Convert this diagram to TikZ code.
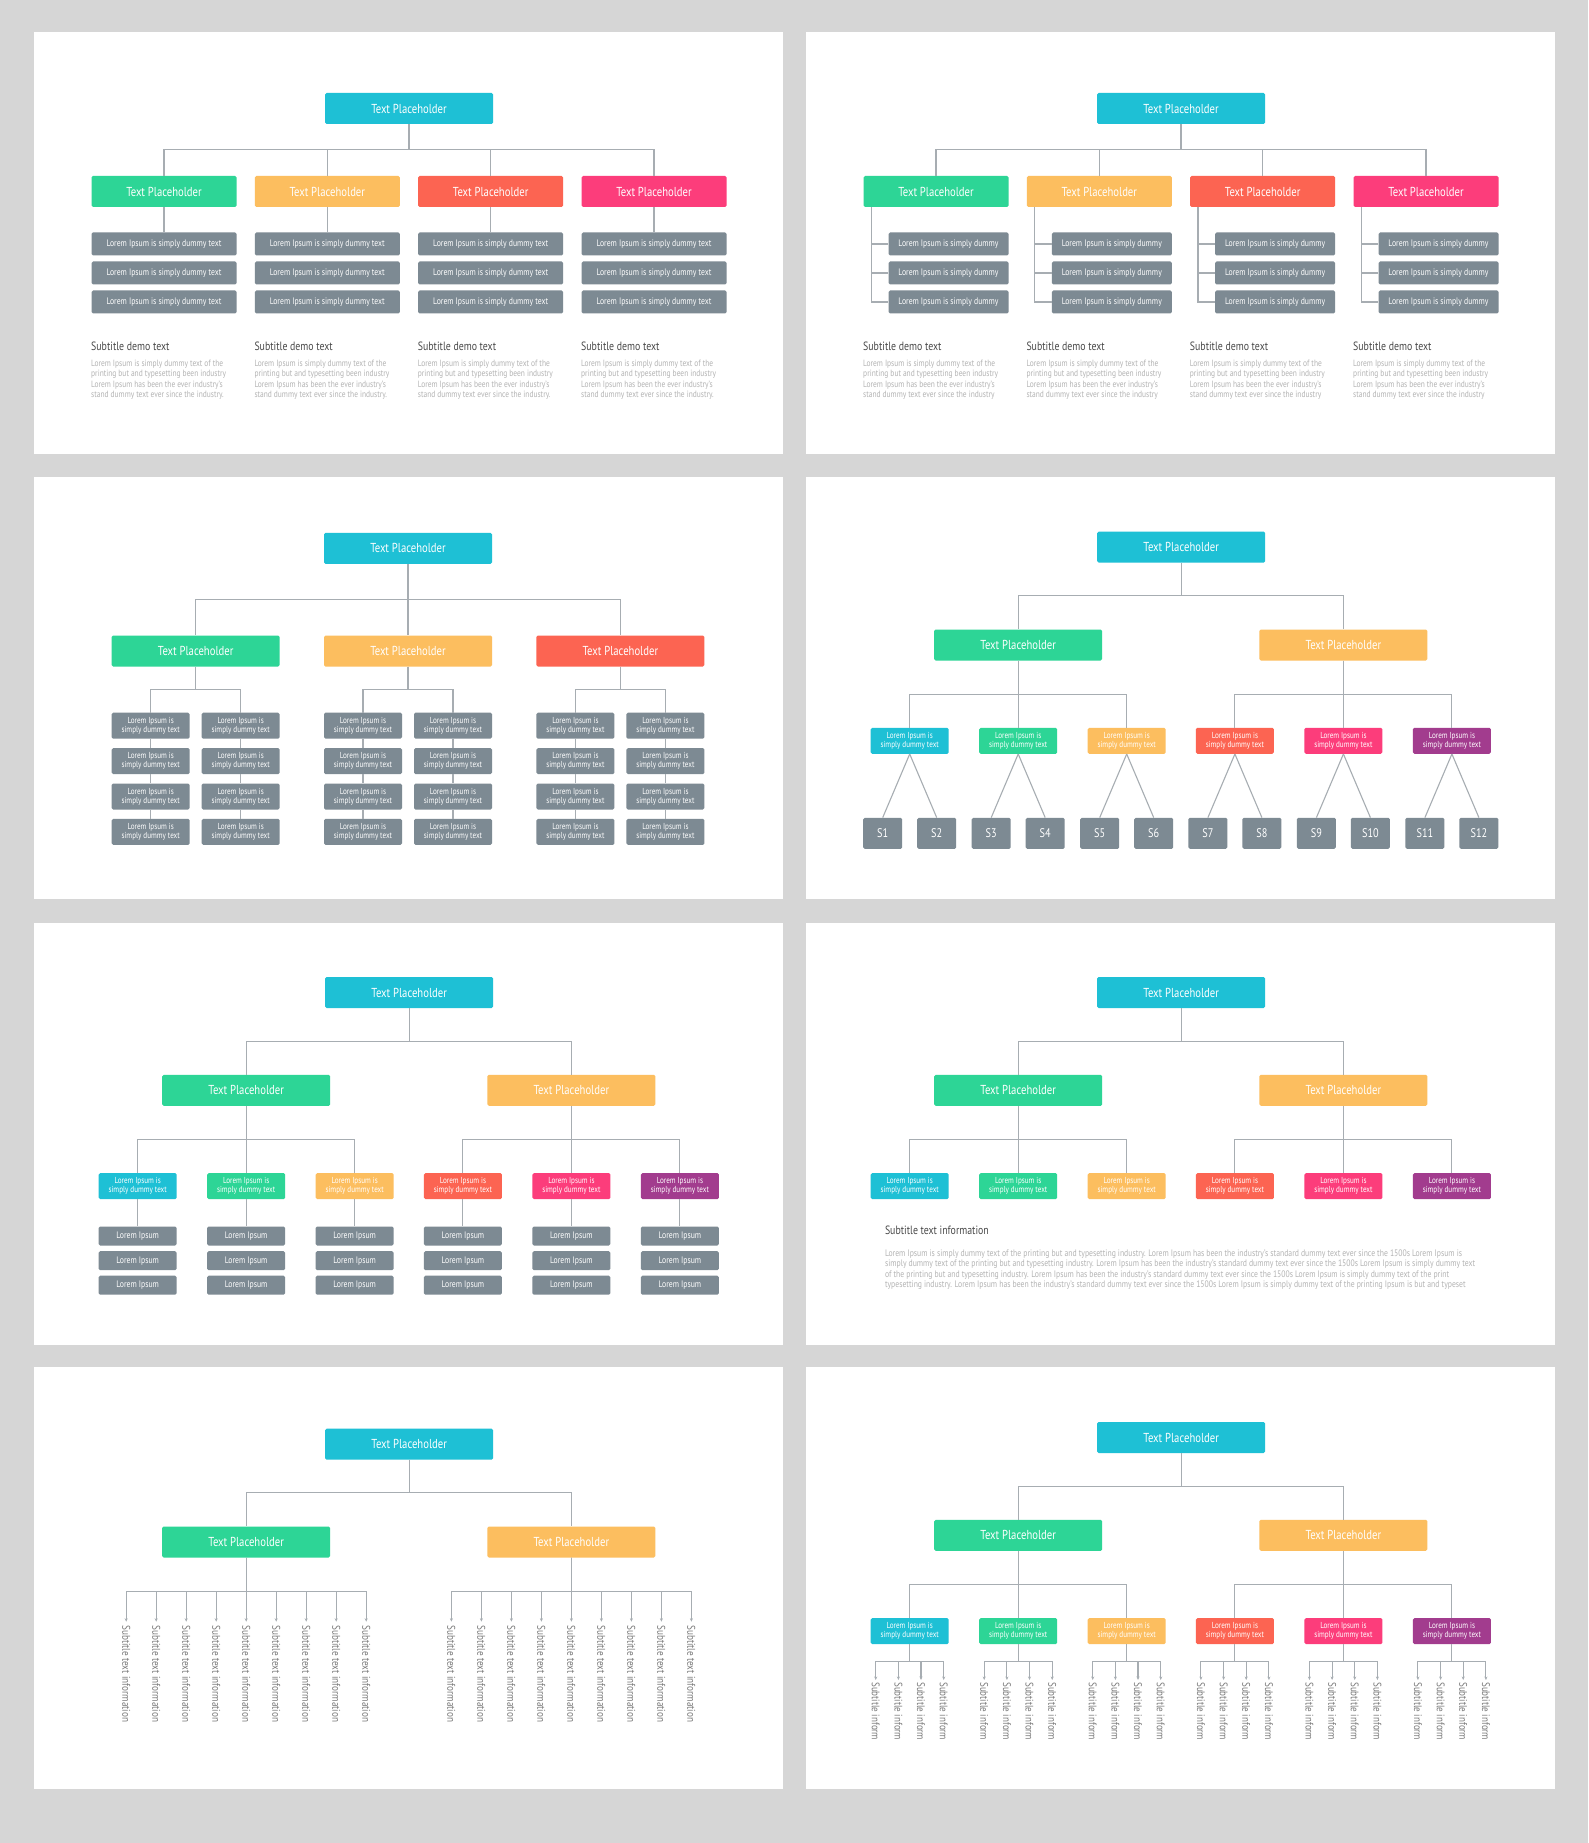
\documentclass[tikz,border=0pt]{standalone}
\usepackage{fontspec}
\setmainfont{PT Sans}[FakeStretch=0.82]
\usetikzlibrary{calc,arrows.meta}
\definecolor{cCyan}{HTML}{1EC0D5}
\definecolor{cGreen}{HTML}{2DD596}
\definecolor{cOrange}{HTML}{FCBE5F}
\definecolor{cRed}{HTML}{FC6452}
\definecolor{cPink}{HTML}{FC3D7B}
\definecolor{cPurple}{HTML}{A23C8E}
\definecolor{cGray}{HTML}{7D8A93}
\definecolor{cLine}{HTML}{A7ADB2}
\definecolor{cBg}{HTML}{D6D6D6}
\definecolor{cSub}{HTML}{4A4A4A}
\definecolor{cPara}{HTML}{B3B3B3}
\definecolor{cVl}{HTML}{7A7A7A}

\newcommand{\TopTwo}[1]{%
  \node[big, fill=cCyan] (#1top) at (1181.2,547.2) {Text Placeholder};
  \node[big, fill=cGreen] (#1b1) at (1018.2,645) {Text Placeholder};
  \node[big, fill=cOrange] (#1b2) at (1343.4,645) {Text Placeholder};
  \draw[conn] (#1top.south) -- ++(0,33) -| (#1b1.north);
  \draw[conn] (#1top.south) -- ++(0,33) -| (#1b2.north);
}
\newcommand{\LevelThree}[1]{%
  \foreach \k/\x/\c/\p in {1/909.7/cCyan/1,2/1018.2/cGreen/1,3/1126.7/cOrange/1,4/1234.9/cRed/2,5/1343.4/cPink/2,6/1451.9/cPurple/2}{
    \node[small, fill=\c] (#1c\k) at (\x,740.8) {Lorem Ipsum is\\simply dummy text};
    \draw[conn] (#1b\p.south) -- ++(0,33.8) -| (#1c\k.north);
  }
}

\begin{document}
\begin{tikzpicture}[x=1pt,y=-1pt,
  conn/.style={draw=cLine, line width=1.1pt},
  tip/.style={conn, -{Stealth[length=3.5pt,width=3pt]}},
  box/.style={rectangle, rounded corners=1.5pt, inner sep=0pt, text=white, align=center},
  big/.style={box, minimum width=168pt, minimum height=31pt, font=\fontsize{13}{15}\selectfont},
  mid/.style={box, minimum width=145pt, minimum height=31pt, font=\fontsize{13}{15}\selectfont},
  small/.style={box, minimum width=78pt, minimum height=26pt, font=\fontsize{8.7}{9.3}\selectfont},
  gbox/.style={box, fill=cGray, font=\fontsize{9.4}{10}\selectfont},
  sbox/.style={box, fill=cGray, minimum width=39pt, minimum height=31pt, font=\fontsize{12.5}{14}\selectfont},
  subt/.style={inner sep=0pt, text=cSub, font=\fontsize{12}{14}\selectfont},
  para/.style={inner sep=0pt, text=cPara, align=left, font=\fontsize{9.1}{10.2}\selectfont},
  vlab/.style={inner sep=0pt, text=cVl, rotate=-90, anchor=west, font=\fontsize{11.2}{12}\selectfont}
]
\fill[cBg] (0,0) rectangle (1588,1843);
\foreach \px/\py in {34/32,806/32,34/477,806/477,34/923,806/923,34/1367,806/1367}
  \fill[white] (\px,\py) rectangle ++(749,422);

% ---------- Panel 1
\node[big, fill=cCyan] (p1top) at (409,108.5) {Text Placeholder};
\foreach \i/\x/\c in {1/164/cGreen,2/327.3/cOrange,3/490.7/cRed,4/654/cPink}{
  \node[mid, fill=\c] (p1b\i) at (\x,191.5) {Text Placeholder};
  \draw[conn] (p1top.south) -- ++(0,25.7) -| (p1b\i.north);
  \foreach \j/\y in {1/244,2/273,3/302}
    \node[gbox, minimum width=145pt, minimum height=23pt] (p1g\i\j) at (\x,\y) {Lorem Ipsum is simply dummy text};
  \draw[conn] (p1b\i.south) -- (p1g\i1.north);
  \node[subt, anchor=west] (p1s\i) at (\x-73,346) {Subtitle demo text};
  \node[para, anchor=north west] (p1p\i) at (\x-73,360) {Lorem Ipsum is simply dummy text of the\\printing but and typesetting been industry\\Lorem Ipsum has been the ever industry's\\stand dummy text ever since the industry.};
}

% ---------- Panel 2
\node[big, fill=cCyan] (p2top) at (1181,108.5) {Text Placeholder};
\foreach \i/\x/\c in {1/936/cGreen,2/1099.3/cOrange,3/1262.7/cRed,4/1426/cPink}{
  \node[mid, fill=\c] (p2b\i) at (\x,191.5) {Text Placeholder};
  \draw[conn] (p2top.south) -- ++(0,25.7) -| (p2b\i.north);
  \foreach \j/\y in {1/244,2/273,3/302}{
    \node[gbox, minimum width=120pt, minimum height=23pt] (p2g\i\j) at (\x+12.5,\y) {Lorem Ipsum is simply dummy};
    \draw[conn] ($(p2b\i.south west)+(8,0)$) |- (p2g\i\j.west);
  }
  \node[subt, anchor=west] (p2s\i) at (\x-73,346) {Subtitle demo text};
  \node[para, anchor=north west] (p2p\i) at (\x-73,360) {Lorem Ipsum is simply dummy text of the\\printing but and typesetting been industry\\Lorem Ipsum has been the ever industry's\\stand dummy text ever since the industry};
}

% ---------- Panel 3
\node[big, fill=cCyan] (p3top) at (408,548.3) {Text Placeholder};
\foreach \i/\x/\c in {1/195.7/cGreen,2/408/cOrange,3/620.4/cRed}{
  \node[big, fill=\c] (p3b\i) at (\x,651) {Text Placeholder};
  \draw[conn] (p3top.south) -- ++(0,35.7) -| (p3b\i.north);
  \foreach \k/\dx in {1/-45,2/45}{
    \foreach \j/\y in {1/725.7,2/761.1,3/796.5,4/831.9}
      \node[gbox, minimum width=78pt, minimum height=26pt, font=\fontsize{8.7}{9.3}\selectfont] (p3g\i\k\j) at (\x+\dx,\y) {Lorem Ipsum is\\simply dummy text};
    \draw[conn] (p3b\i.south) -- ++(0,23.2) -| (p3g\i\k1.north);
    \draw[conn] (p3g\i\k1.south) -- (p3g\i\k2.north);
    \draw[conn] (p3g\i\k2.south) -- (p3g\i\k3.north);
    \draw[conn] (p3g\i\k3.south) -- (p3g\i\k4.north);
  }
}

% ---------- Panel 4
\TopTwo{p4}
\LevelThree{p4}
\foreach \k/\x in {1/909.7,2/1018.2,3/1126.7,4/1234.9,5/1343.4,6/1451.9}{
  \pgfmathtruncatemacro\sa{2*\k-1}
  \pgfmathtruncatemacro\sb{2*\k}
  \node[sbox] (p4s\sa) at (\x-27,833.3) {S\sa};
  \node[sbox] (p4s\sb) at (\x+27,833.3) {S\sb};
  \draw[conn] (p4c\k.south) -- (p4s\sa.north);
  \draw[conn] (p4c\k.south) -- (p4s\sb.north);
}

% ---------- Panel 5
\begin{scope}[shift={(-772,445.3)}]
\TopTwo{p5}
\LevelThree{p5}
\foreach \k/\x in {1/909.7,2/1018.2,3/1126.7,4/1234.9,5/1343.4,6/1451.9}{
  \foreach \j/\y in {1/790.7,2/815.4,3/839.9}
    \node[gbox, minimum width=78pt, minimum height=19pt] (p5g\k\j) at (\x,\y) {Lorem Ipsum};
  \draw[conn] (p5c\k.south) -- (p5g\k1.north);
}
\end{scope}

% ---------- Panel 6
\begin{scope}[shift={(0,445.3)}]
\TopTwo{p6}
\LevelThree{p6}
\end{scope}
\node[subt, anchor=west] (p6s) at (884.8,1230) {Subtitle text information};
\node[para, anchor=north west, font=\fontsize{9.4}{10.3}\selectfont] (p6p) at (884.8,1249.5) {Lorem Ipsum is simply dummy text of the printing but and typesetting industry. Lorem Ipsum has been the industry's standard dummy text ever since the 1500s Lorem Ipsum is\\simply dummy text of the printing but and typesetting industry. Lorem Ipsum has been the industry's standard dummy text ever since the 1500s Lorem Ipsum is simply dummy text\\of the printing but and typesetting industry. Lorem Ipsum has been the industry's standard dummy text ever since the 1500s Lorem Ipsum is simply dummy text of the print\\typesetting industry. Lorem Ipsum has been the industry's standard dummy text ever since the 1500s Lorem Ipsum is simply dummy text of the printing Ipsum is but and typeset};

% ---------- Panel 7
\begin{scope}[shift={(-772,897)}]
\TopTwo{p7}
\foreach \p/\x in {1/1018.2,2/1343.4}{
  \foreach \m in {0,...,8}{
    \coordinate (p7e\p\m) at (\x-120+30*\m,724.7);
    \draw[tip] (p7b\p.south) -- ++(0,34.2) -| (p7e\p\m);
    \node[vlab] (p7t\p\m) at (\x-120+30*\m,728) {Subtitle text information};
  }
}
\end{scope}

% ---------- Panel 8
\begin{scope}[shift={(0,890.3)}]
\TopTwo{p8}
\LevelThree{p8}
\foreach \k/\x in {1/909.7,2/1018.2,3/1126.7,4/1234.9,5/1343.4,6/1451.9}{
  \foreach \m/\dx in {1/-34,2/-11.3,3/11.3,4/34}{
    \coordinate (p8e\k\m) at (\x+\dx,789.7);
    \draw[tip] (p8c\k.south) -- ++(0,17.6) -| (p8e\k\m);
    \node[vlab, font=\fontsize{11}{12}\selectfont] (p8t\k\m) at (\x+\dx,791.7) {Subtitle inform};
  }
}
\end{scope}
\end{tikzpicture}
\end{document}
